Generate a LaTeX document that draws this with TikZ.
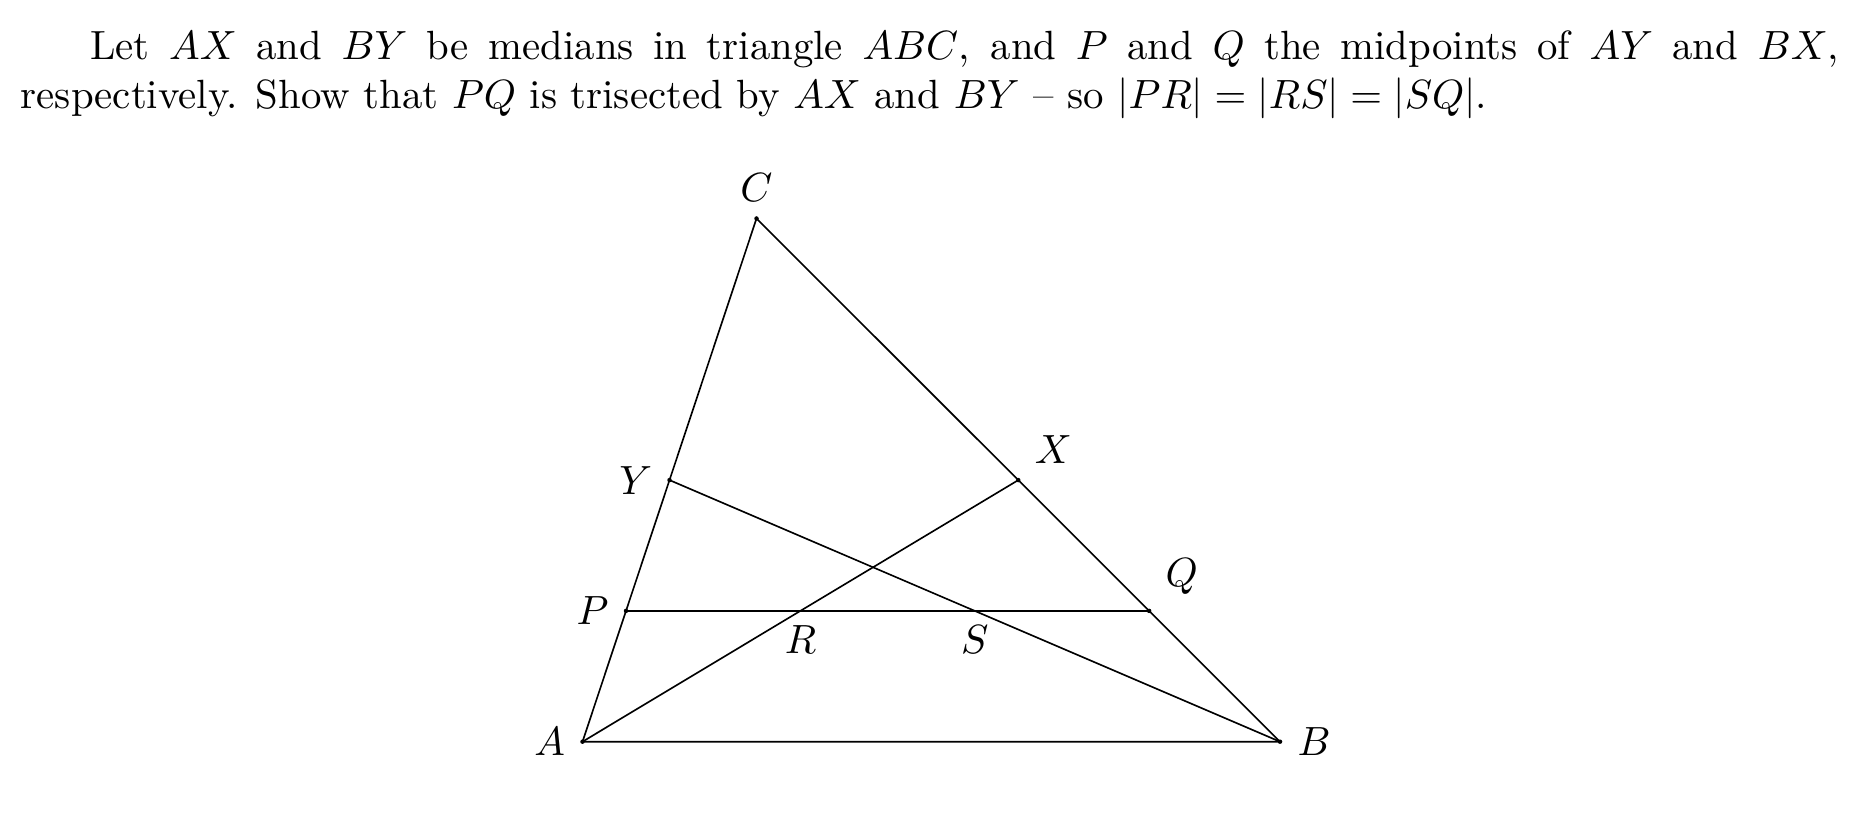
\documentclass[tikz,border=0pt]{standalone}
\usepackage{amsmath,amssymb}
\usepackage{tikz}
\usetikzlibrary{calc,positioning}

\begin{document}
\begin{tikzpicture}[
    x=0.245pt, y=-0.245pt,
    dot/.style={circle, fill=black, inner sep=0pt, minimum size=1.1pt},
    seg/.style={line width=0.4pt},
    problem/.style={inner sep=0pt, text width=445.5pt, align=justify, anchor=north west}
]
    \useasboundingbox (0,0) rectangle (1876,832);

    % Statement
    \node[problem] (text) at (20,30) {\hspace*{17pt}Let \(AX\) and \(BY\) be medians in triangle \(ABC\), and \(P\) and \(Q\) the midpoints of \(AY\) and \(BX\),\linebreak
    respectively. Show that \(PQ\) is trisected by \(AX\) and \(BY\) -- so \(|PR|=|RS|=|SQ|\).};

    % Triangle
    \node[dot, label=left:$A$] (A) at (582.5,741.7) {};
    \node[dot, label=right:$B$] (B) at (1280,741.7) {};
    \node[dot, label=above:$C$] (C) at (756.5,218.5) {};

    % Midpoints
    \node[dot, label=above right:$X$] (X) at ($(B)!0.5!(C)$) {};
    \node[dot, label=left:$Y$] (Y) at ($(A)!0.5!(C)$) {};
    \node[dot, label=left:$P$] (P) at ($(A)!0.5!(Y)$) {};
    \node[dot, label=above right:$Q$] (Q) at ($(B)!0.5!(X)$) {};

    % Trisection points
    \coordinate[label=below:$R$] (R) at (intersection of P--Q and A--X);
    \coordinate[label=below:$S$] (S) at (intersection of P--Q and B--Y);

    % Segments
    \draw[seg] (A.center) -- (B.center) -- (C.center) -- cycle;
    \draw[seg] (A.center) -- (X.center);
    \draw[seg] (B.center) -- (Y.center);
    \draw[seg] (P.center) -- (Q.center);
\end{tikzpicture}
\end{document}
